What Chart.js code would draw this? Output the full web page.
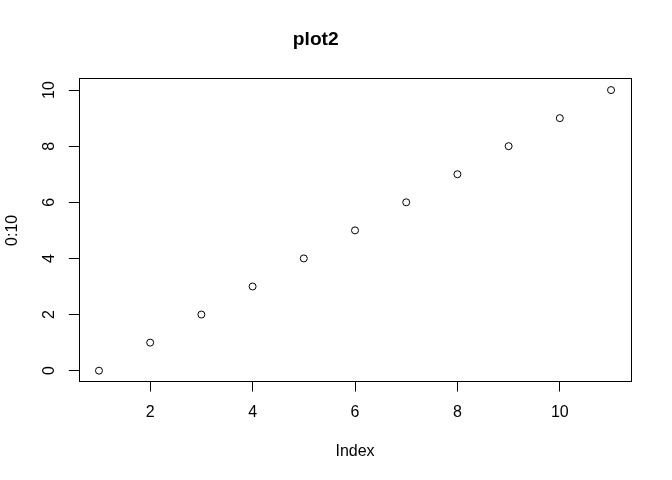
<!DOCTYPE html>
<html>
<head>
<meta charset="utf-8">
<script src="https://cdn.jsdelivr.net/npm/chart.js@4.4.1/dist/chart.umd.min.js"></script>
<style>
  html, body { margin: 0; padding: 0; background: #fff; }
  canvas { display: block; }
</style>
</head>
<body>
<canvas id="plot2" width="672" height="480"></canvas>
<script>
const indices = [1, 2, 3, 4, 5, 6, 7, 8, 9, 10, 11];
const values = [0, 1, 2, 3, 4, 5, 6, 7, 8, 9, 10];
const xTicks = [2, 4, 6, 8, 10];
const yTicks = [0, 2, 4, 6, 8, 10];

const fontFamily = '"Liberation Sans", Arial, Helvetica, sans-serif';

// R style: full box round the plot region, y tick labels written along the axis
const rBox = {
  id: 'rBox',
  afterDraw(chart) {
    const { ctx, chartArea: a } = chart;
    const l = Math.ceil(a.left) + 0.5;
    const r = Math.floor(a.right) + 0.5;
    const t = Math.floor(a.top) + 0.5;
    const b = Math.floor(a.bottom) + 0.5;
    ctx.save();
    ctx.strokeStyle = '#000';
    ctx.lineWidth = 1;
    ctx.strokeRect(l, t, r - l, b - t);

    const ys = chart.scales.y;
    ctx.fillStyle = '#000';
    ctx.font = '16px ' + fontFamily;
    ctx.textAlign = 'center';
    ctx.textBaseline = 'middle';
    yTicks.forEach(v => {
      ctx.save();
      ctx.translate(49.5, ys.getPixelForValue(v));
      ctx.rotate(-Math.PI / 2);
      ctx.fillText(String(v), 0, 0);
      ctx.restore();
    });
    ctx.restore();
  }
};

const ctx = document.getElementById('plot2').getContext('2d');
const chart = new Chart(ctx, {
  type: 'scatter',
  data: {
    datasets: [{
      label: '0:10',
      data: indices.map((x, i) => ({ x: x, y: values[i] })),
      pointStyle: 'circle',
      pointRadius: 3.5,
      pointHoverRadius: 3.5,
      pointBorderWidth: 1,
      pointBorderColor: '#000',
      pointBackgroundColor: 'rgba(0,0,0,0)'
    }]
  },
  options: {
    responsive: false,
    animation: false,
    events: [],
    layout: { padding: { left: 0, right: 40.5, top: 0, bottom: 0 } },
    plugins: {
      legend: { display: false },
      tooltip: { enabled: false },
      title: {
        display: true,
        text: 'plot2',
        color: '#000',
        font: { family: fontFamily, size: 19.2, weight: 'bold', lineHeight: 1.2 },
        padding: { top: 28.1, bottom: 27.7 }
      }
    },
    scales: {
      x: {
        type: 'linear',
        min: 0.6,
        max: 11.4,
        afterBuildTicks: s => { s.ticks = xTicks.map(v => ({ value: v })); },
        afterFit: s => { s.height = 98.1; },
        border: { display: false },
        grid: {
          drawOnChartArea: false,
          drawTicks: true,
          tickLength: 9.6,
          tickColor: '#000',
          lineWidth: 1
        },
        ticks: {
          autoSkip: false,
          maxRotation: 0,
          padding: 11.9,
          color: '#000',
          font: { family: fontFamily, size: 16, lineHeight: 1.2 }
        },
        title: {
          display: true,
          text: 'Index',
          color: '#000',
          font: { family: fontFamily, size: 16, lineHeight: 1.2 },
          padding: { top: 0, bottom: 18.4 }
        }
      },
      y: {
        type: 'linear',
        min: -0.4,
        max: 10.4,
        afterBuildTicks: s => { s.ticks = yTicks.map(v => ({ value: v })); },
        afterFit: s => { s.width = 78.5; },
        border: { display: false },
        grid: {
          drawOnChartArea: false,
          drawTicks: true,
          tickLength: 9.6,
          tickColor: '#000',
          lineWidth: 1
        },
        ticks: { display: false },
        title: {
          display: true,
          text: '0:10',
          color: '#000',
          font: { family: fontFamily, size: 16, lineHeight: 1.2 },
          padding: { top: 3.1, bottom: 0 }
        }
      }
    }
  },
  plugins: [rBox]
});
</script>
</body>
</html>
